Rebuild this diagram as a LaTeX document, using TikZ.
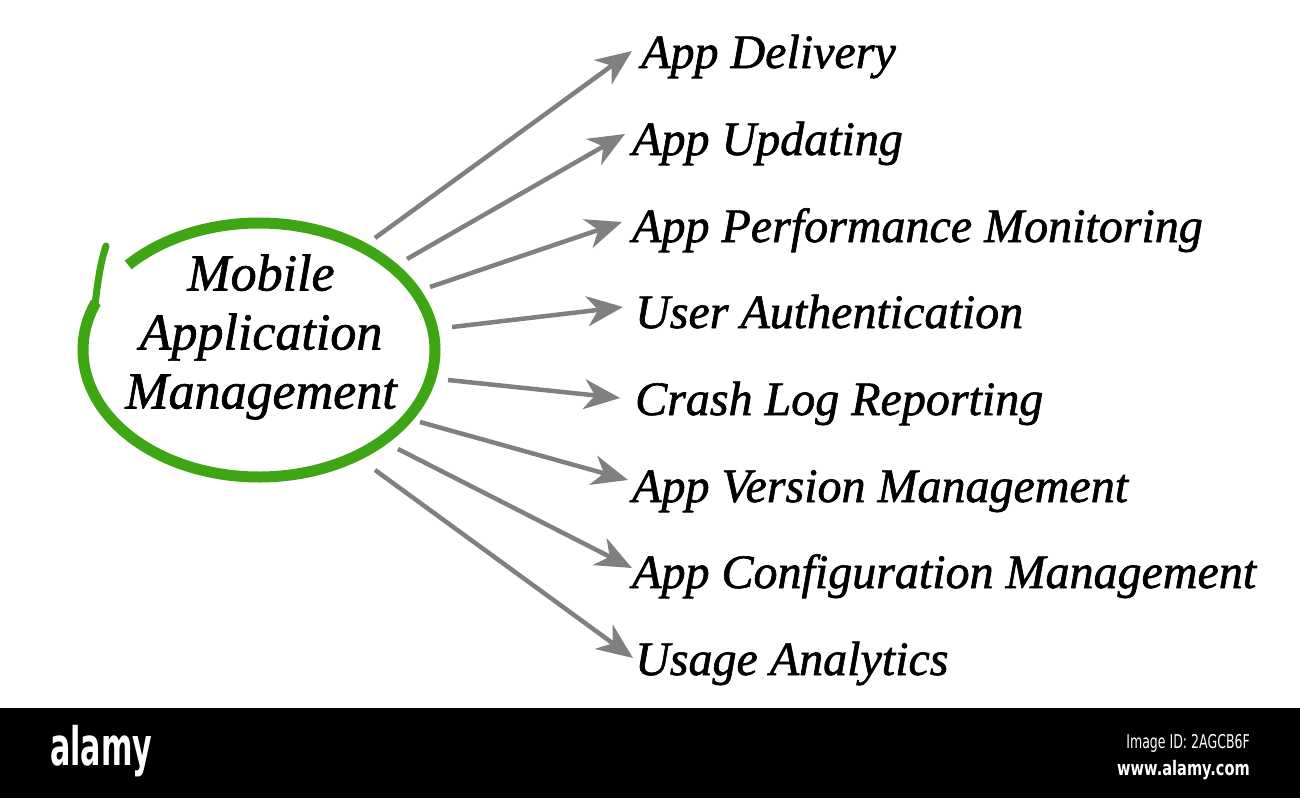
\documentclass[tikz,border=0pt]{standalone}
\usepackage{fontspec}
\setmainfont{Liberation Serif}
\newfontfamily\itemfont{Liberation Serif}[ItalicFeatures={FakeBold=1.3}]
\newfontfamily\barfont{DejaVu Sans}
\usetikzlibrary{arrows.meta}
\definecolor{ringgreen}{RGB}{62,166,20}
\definecolor{arrowgray}{RGB}{128,128,128}
\tikzset{
  item/.style={anchor=base west, inner sep=0pt, font=\itemfont\itshape\fontsize{48}{56}\selectfont},
  arr/.style={draw=arrowgray, line width=4.5pt, line cap=butt, -{Stealth[length=36pt,width=30pt,inset=11pt]}},
  bartext/.style={text=white, inner sep=0pt},
}
\begin{document}
\begin{tikzpicture}[x=1pt, y=-1pt, line cap=round, line join=round]
\useasboundingbox (0,0) rectangle (1300,798);
\fill[white] (0,0) rectangle (1300,708);
\fill[black] (0,708) rectangle (1300,798);

\coordinate (O) at (259,350);
\draw[ringgreen, line width=11pt, line cap=butt] (O) ++(222:176 and 127) arc[start angle=222, end angle=562, x radius=176, y radius=127];
\coordinate (T0) at (95,305);
\coordinate (T1) at (106,246);
\draw[ringgreen, line width=7pt] (T0) .. controls (97,288) and (100,263) .. (T1);
\node[font=\itemfont\itshape\fontsize{52}{59}\selectfont, align=center, inner sep=0pt] (M) at (261,337) {Mobile\\Application\\Management};

\node[item] (d) at (641,68) {App Delivery};
\node[item] (u) at (632,155) {App Updating};
\node[item] (p) at (632,242) {App Performance Monitoring};
\node[item] (a) at (635,328) {User Authentication};
\node[item] (c) at (635,415) {Crash Log Reporting};
\node[item] (v) at (632,502) {App Version Management};
\node[item] (g) at (632,588) {App Configuration Management};
\node[item] (n) at (635,675) {Usage Analytics};

\coordinate (s1) at (375,238);
\coordinate (s2) at (407,259);
\coordinate (s3) at (430,287);
\coordinate (s4) at (452,327);
\coordinate (s5) at (448,380);
\coordinate (s6) at (420,422);
\coordinate (s7) at (398,449);
\coordinate (s8) at (375,470);
\draw[arr] (s1) -- ([shift={(-9,-17)}]d.base west);
\draw[arr] (s2) -- ([shift={(-7,-21)}]u.base west);
\draw[arr] (s3) -- ([shift={(-10,-20)}]p.base west);
\draw[arr] (s4) -- ([shift={(-12,-21)}]a.base west);
\draw[arr] (s5) -- ([shift={(-15,-17)}]c.base west);
\draw[arr] (s6) -- ([shift={(-4,-22)}]v.base west);
\draw[arr] (s7) -- ([shift={(0,-20)}]g.base west);
\draw[arr] (s8) -- ([shift={(-2,-17)}]n.base west);

\node[bartext, anchor=base west, font=\barfont\bfseries\fontsize{53}{53}\selectfont] (logo) at (50,765) {\scalebox{0.57}[1]{alamy}};
\node[bartext, anchor=base east, font=\barfont\fontsize{19}{19}\selectfont] (imgid) at (1250,748) {\scalebox{0.66}[1]{Image ID: 2AGCB6F}};
\node[bartext, anchor=base east, font=\barfont\bfseries\fontsize{20}{20}\selectfont] (site) at (1250,775) {\scalebox{0.73}[1]{www.alamy.com}};
\end{tikzpicture}
\end{document}
